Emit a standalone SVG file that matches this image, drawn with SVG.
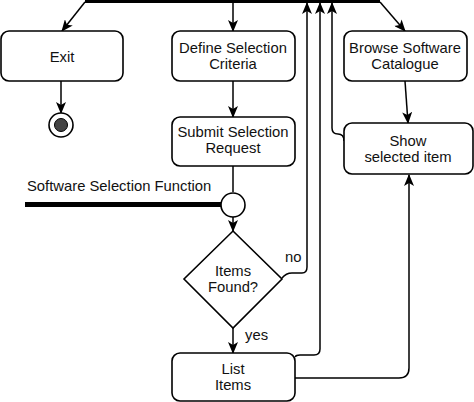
<svg xmlns="http://www.w3.org/2000/svg" width="474" height="402" viewBox="0 0 474 402">
<defs>
<style>
.box{fill:#fff;stroke:#000;stroke-width:1.6}
.ln{fill:none;stroke:#000;stroke-width:1.5}
.t{font-family:"Liberation Sans",Arial,sans-serif;font-size:14.8px;fill:#111;text-anchor:middle}
.l{font-family:"Liberation Sans",Arial,sans-serif;font-size:14.8px;fill:#111}
</style>
<marker id="ah" viewBox="0 0 12 10" refX="11" refY="5" markerWidth="12" markerHeight="10" markerUnits="userSpaceOnUse" orient="auto">
<path d="M0,0 L12,5 L0,10 L3,5 z" fill="#000"/>
</marker>
</defs>
<rect width="474" height="402" fill="#fff"/>
<g id="connectors">
<path class="ln" d="M85,2 L62,31" marker-end="url(#ah)"/>
<path class="ln" d="M233,2 L233,31" marker-end="url(#ah)"/>
<path class="ln" d="M380,2 L405,31" marker-end="url(#ah)"/>
<path class="ln" d="M61,81 L61,113" marker-end="url(#ah)"/>
<path class="ln" d="M233,81 L233,117" marker-end="url(#ah)"/>
<path class="ln" d="M405,81 L408,123" marker-end="url(#ah)"/>
<path class="ln" d="M233,166 L233,192"/>
<path class="ln" d="M233,217 L233,231" marker-end="url(#ah)"/>
<path class="ln" d="M233,328 L233,353" marker-end="url(#ah)"/>
<path class="ln" d="M282,278 Q286,273 292,273 L302,273 Q307,273 307,267 L307,3" marker-end="url(#ah)"/>
<path class="ln" d="M295,357 Q296,355 300,355 L314,355 Q320,355 320,349 L320,3" marker-end="url(#ah)"/>
<path class="ln" d="M344,141 Q344,134 338,134 Q332,134 332,128 L332,3" marker-end="url(#ah)"/>
<path class="ln" d="M295,378 L399,378 Q409,378 409,368 L409,175" marker-end="url(#ah)"/>
</g>
<g id="top-bar"><rect x="85" y="-3" width="295" height="6" fill="#000"/></g>
<g id="exit"><rect class="box" x="1" y="31" width="122" height="50" rx="8"/><text class="t" x="62" y="62">Exit</text></g>
<g id="final"><circle cx="61" cy="125" r="12" fill="#fff" stroke="#000" stroke-width="1.6"/><circle cx="61" cy="125" r="6.5" fill="#444" stroke="#000" stroke-width="1"/></g>
<g id="define"><rect class="box" x="172" y="31" width="123" height="50" rx="8"/><text class="t" x="233" y="53">Define Selection</text><text class="t" x="233" y="69">Criteria</text></g>
<g id="browse"><rect class="box" x="344" y="31" width="123" height="50" rx="8"/><text class="t" x="405" y="53">Browse Software</text><text class="t" x="405" y="69">Catalogue</text></g>
<g id="submit"><rect class="box" x="172" y="117" width="123" height="49" rx="8"/><text class="t" x="233" y="137">Submit Selection</text><text class="t" x="233" y="153">Request</text></g>
<g id="show"><rect class="box" x="344" y="123" width="129" height="51" rx="8"/><text class="t" x="408" y="146">Show</text><text class="t" x="408" y="162">selected item</text></g>
<g id="ssf"><text class="l" x="27" y="191">Software Selection Function</text><rect x="25" y="202" width="197" height="5" fill="#000"/><circle cx="233" cy="205" r="12" fill="#fff" stroke="#000" stroke-width="1.6"/></g>
<g id="decision"><polygon class="box" points="233,231 282,279 233,328 184,279"/><text class="t" x="233" y="276">Items</text><text class="t" x="233" y="292">Found?</text></g>
<g id="list"><rect class="box" x="172" y="353" width="123" height="48" rx="8"/><text class="t" x="233" y="374">List</text><text class="t" x="233" y="390">Items</text></g>
<g id="labels"><text class="l" x="285" y="262">no</text><text class="l" x="245" y="340">yes</text></g>
</svg>
